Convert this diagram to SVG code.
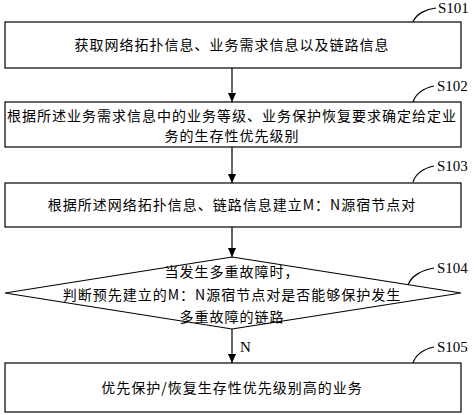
<svg xmlns="http://www.w3.org/2000/svg" width="474" height="415" viewBox="0 0 474 415">
<defs>
<style>
.box{fill:#fff;stroke:#000;stroke-width:1.2}
.t{font-family:"Noto Sans CJK SC","Liberation Serif",serif;font-size:14px;fill:#000;text-anchor:middle}
.lab{font-family:"Liberation Serif",serif;font-size:15px;fill:#000}
.ln{fill:none;stroke:#000;stroke-width:1.2}
</style>
<marker id="a" markerWidth="9" markerHeight="10" refX="10" refY="5" orient="auto" markerUnits="userSpaceOnUse" viewBox="0 0 10 10">
<path d="M0,0.5 L10,5 L0,9.5 Z" fill="#000"/>
</marker>
</defs>
<rect width="474" height="415" fill="#fff"/>
<g id="connectors">
<line class="ln" x1="232" y1="68" x2="232" y2="102" marker-end="url(#a)"/>
<line class="ln" x1="232" y1="147" x2="232" y2="183" marker-end="url(#a)"/>
<line class="ln" x1="232" y1="227" x2="232" y2="257" marker-end="url(#a)"/>
<line class="ln" x1="232" y1="329" x2="232" y2="363" marker-end="url(#a)"/>
<text class="lab" x="240" y="352">N</text>
</g>
<g id="S101">
<rect class="box" x="5" y="22" width="456" height="46"/>
<text class="t" x="232" y="50" letter-spacing="1">获取网络拓扑信息、业务需求信息以及链路信息</text>
<path class="ln" d="M413,22 C416,14 426,9 436,8"/>
<text class="lab" x="438" y="13">S101</text>
</g>
<g id="S102">
<rect class="box" x="5" y="102" width="456" height="45"/>
<text class="t" x="232" y="121" letter-spacing="1">根据所述业务需求信息中的业务等级、业务保护恢复要求确定给定业</text>
<text class="t" x="232" y="141" letter-spacing="1">务的生存性优先级别</text>
<path class="ln" d="M413,102 C416,93 425,88 434,86"/>
<text class="lab" x="437" y="91">S102</text>
</g>
<g id="S103">
<rect class="box" x="5" y="183" width="456" height="44"/>
<text class="t" x="232" y="210" letter-spacing="1">根据所述网络拓扑信息、链路信息建立M：N源宿节点对</text>
<path class="ln" d="M413,182 C416,173 425,168 434,166"/>
<text class="lab" x="437" y="171">S103</text>
</g>
<g id="S104">
<polygon class="box" points="232,257 461,293 232,329 5,293"/>
<text class="t" x="232" y="277" letter-spacing="1">当发生多重故障时，</text>
<text class="t" x="232" y="300" letter-spacing="1">判断预先建立的M：N源宿节点对是否能够保护发生</text>
<text class="t" x="232" y="322" letter-spacing="1">多重故障的链路</text>
<path class="ln" d="M408,285 C411,276 422,270 434,268"/>
<text class="lab" x="437" y="273">S104</text>
</g>
<g id="S105">
<rect class="box" x="5" y="363" width="456" height="49"/>
<text class="t" x="232" y="393" letter-spacing="1">优先保护/恢复生存性优先级别高的业务</text>
<path class="ln" d="M413,363 C416,354 425,349 434,347"/>
<text class="lab" x="437" y="352">S105</text>
</g>
</svg>
